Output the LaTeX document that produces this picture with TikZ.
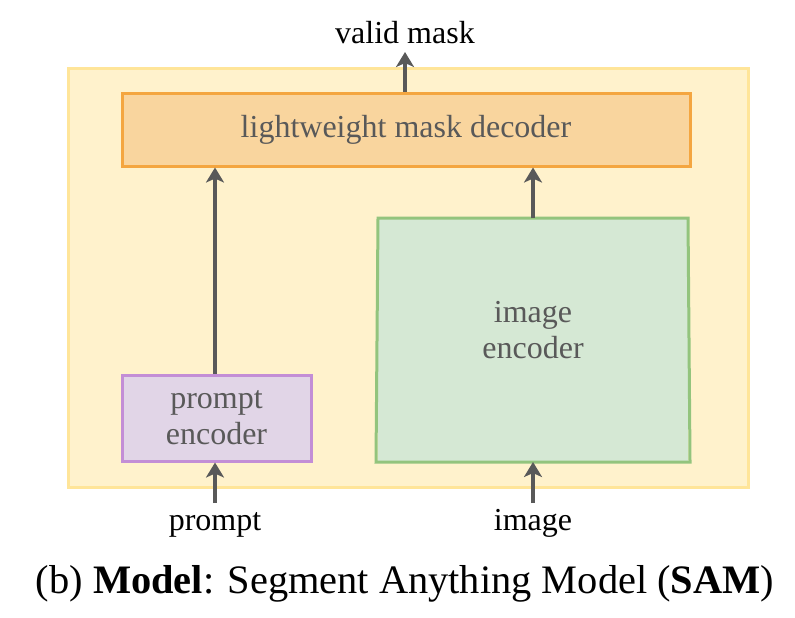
\documentclass[tikz,border=0pt]{standalone}
\usepackage{fontspec}
\setmainfont{Liberation Serif}
\usepackage{xcolor}
\usetikzlibrary{arrows.meta}

\definecolor{samfill}{HTML}{FFF2CC}
\definecolor{samline}{HTML}{FFE599}
\definecolor{decfill}{HTML}{F9D59E}
\definecolor{decline}{HTML}{F4A640}
\definecolor{penfill}{HTML}{E1D5E7}
\definecolor{penline}{HTML}{C38ED6}
\definecolor{ienfill}{HTML}{D5E8D4}
\definecolor{ienline}{HTML}{93C47D}
\definecolor{textgray}{HTML}{595959}

\begin{document}
\begin{tikzpicture}[x=0.5pt,y=-0.5pt,
box/.style={draw,line width=1.5pt,inner sep=0pt,align=center,text=textgray,font=\fontsize{16}{18}\selectfont},
arr/.style={draw=textgray,line width=1.8pt,-{Stealth[length=7.5pt,width=9pt,inset=2pt]}},
lbl/.style={font=\fontsize{16}{18}\selectfont,anchor=base}
]
\useasboundingbox (0,0) rectangle (795,617);

% The frame
\node[draw=samline,fill=samfill,line width=1.5pt,minimum width=340pt,minimum height=209.5pt] (sam) at (408,277.5) {};

% The blocks
\node[box,draw=decline,fill=decfill,minimum width=284pt,minimum height=36.5pt] (dec) at (406,129.5) {lightweight mask decoder};
\node[box,draw=penline,fill=penfill,minimum width=94.5pt,minimum height=43pt] (penc) at (216.5,418) {prompt\\encoder};
\node[box,draw=none,fill=ienfill,outer sep=0pt,text depth=10pt,minimum width=155pt,minimum height=122pt] (ienc) at (533,340) {image\\encoder};
\draw[ienline,line width=1.5pt] (ienc.north west) -- (ienc.north east) -- ([xshift=1pt]ienc.south east) -- ([xshift=-1pt]ienc.south west) -- cycle;

% The connectors
\coordinate (vm) at (405,52);
\coordinate (pin) at (215,503);
\coordinate (iin) at (533,503);
\draw[arr] (vm |- dec.north) -- (vm);
\draw[arr] (pin) -- (pin |- penc.south);
\draw[arr] (pin |- penc.north) -- (pin |- dec.south);
\draw[arr] (iin) -- (ienc.south);
\draw[arr] (ienc.north) -- (ienc.north |- dec.south);

% The labels
\node[lbl] (vmask) at (405,43) {valid mask};
\node[lbl] (ptxt) at (215,530) {prompt};
\node[lbl] (itxt) at (533,530) {image};
\node[font=\fontsize{20.2}{24}\selectfont,anchor=base] (cap) at (405,593) {(b) \textbf{Model}: Segment Anything Model (\textbf{SAM})};
\end{tikzpicture}
\end{document}
